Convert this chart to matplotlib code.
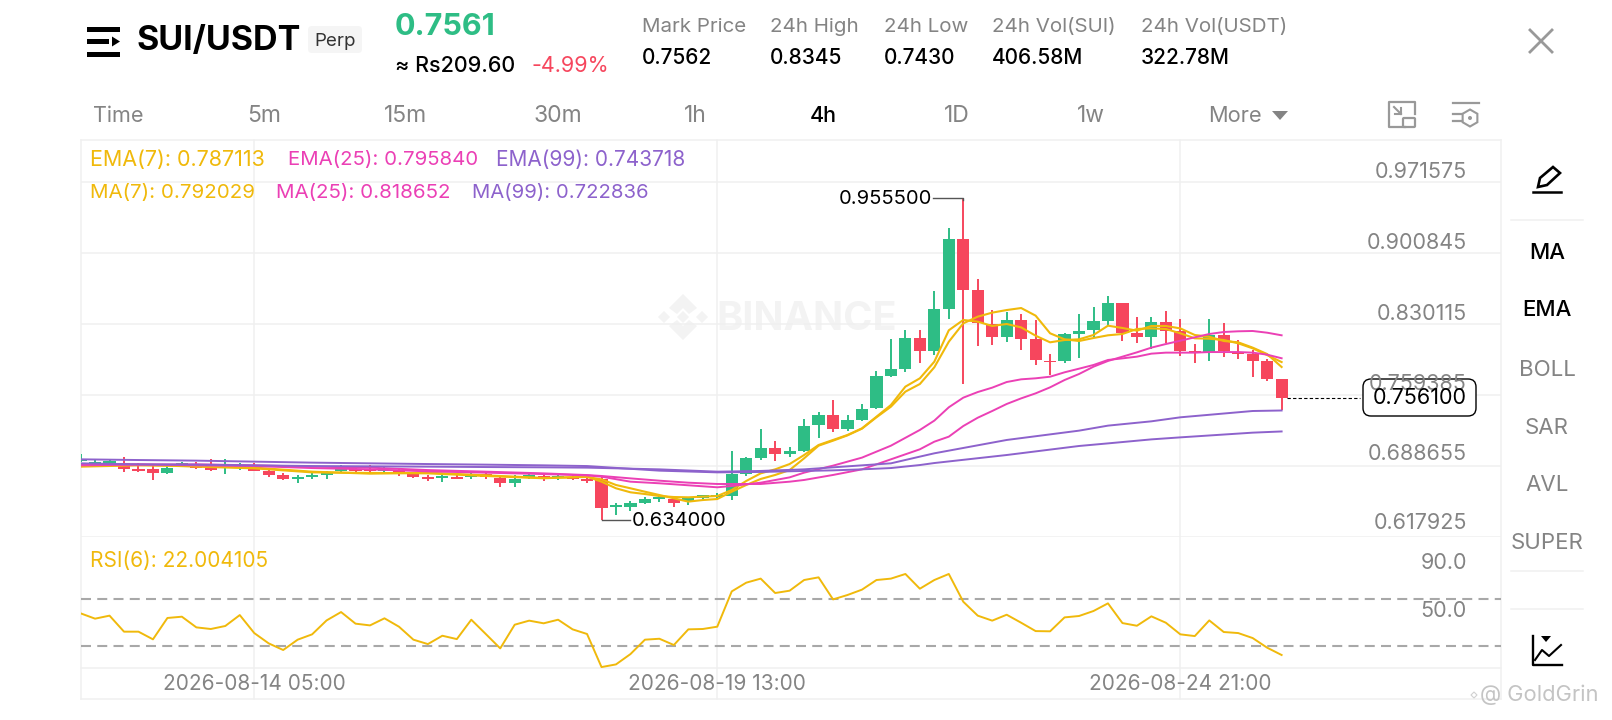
import matplotlib
matplotlib.use("Agg")
from matplotlib import pyplot as plt
from matplotlib.patches import FancyBboxPatch, Polygon, Rectangle, Circle, RegularPolygon

plt.rcParams['font.family'] = ['Inter', 'DejaVu Sans']

# 4h candles
opens = [.6933, .6910, .6910, .6910, .6857, .6850, .6817, .6893, .6893, .6863, .6863, .6870,
         .6877, .6833, .6793, .6751, .6774, .6797, .6833, .6850, .6850, .6830, .6827, .6803,
         .6774, .6767, .6774, .6771, .6800, .6761, .6714, .6777, .6784, .6764, .6771, .6751,
         .6754, .6471, .6471, .6511, .6558, .6558, .6531, .6561, .6571, .6587, .6804, .6963,
         .7063, .7000, .7033, .7289, .7395, .7256, .7339, .7459, .7784, .7848, .8157, .8034,
         .8449, .9144, .8636, .8300, .8167, .8340, .8153, .7934, .7927, .8203, .8237, .8333,
         .8509, .8210, .8170, .8316, .8230, .8024, .8014, .8190, .8020, .8000, .7931, .7748]
highs = [.7003, .6953, .6950, .6977, .6910, .6883, .6883, .6927, .6927, .6950, .6950, .6910,
         .6917, .6850, .6810, .6793, .6810, .6837, .6893, .6870, .6893, .6870, .6860, .6823,
         .6790, .6810, .6797, .6810, .6817, .6781, .6793, .6810, .6803, .6797, .6793, .6784,
         .6777, .6518, .6534, .6578, .6584, .6578, .6578, .6597, .6611, .7033, .6970, .7256,
         .7129, .7073, .7355, .7422, .7538, .7389, .7502, .7828, .8147, .8243, .8237, .8632,
         .9261, .9555, .8749, .8436, .8419, .8396, .8336, .8000, .8207, .8396, .8473, .8579,
         .8509, .8366, .8370, .8426, .8346, .8104, .8350, .8306, .8140, .8040, .7951, .7748]
lows = [.6927, .6893, .6870, .6827, .6827, .6744, .6807, .6890, .6853, .6837, .6803, .6843,
        .6830, .6777, .6744, .6717, .6751, .6754, .6827, .6827, .6820, .6817, .6784, .6767,
        .6737, .6727, .6751, .6754, .6754, .6671, .6677, .6754, .6734, .6741, .6744, .6717,
        .6340, .6395, .6438, .6505, .6528, .6471, .6491, .6544, .6551, .6544, .6784, .6947,
        .6937, .6977, .7026, .7163, .7223, .7236, .7332, .7455, .7771, .7821, .7907, .7994,
        .8350, .7705, .8084, .8094, .8123, .8040, .7891, .7788, .7911, .7964, .8170, .8286,
        .8133, .8110, .8047, .8107, .7977, .7907, .7931, .7974, .7954, .7774, .7728, .7442]
closes = [.6953, .6910, .6930, .6853, .6833, .6817, .6863, .6910, .6867, .6843, .6883, .6893,
          .6837, .6793, .6751, .6774, .6793, .6820, .6850, .6837, .6830, .6843, .6817, .6777,
          .6754, .6784, .6757, .6784, .6771, .6714, .6754, .6790, .6771, .6777, .6751, .6737,
          .6461, .6494, .6511, .6554, .6578, .6518, .6561, .6591, .6594, .6804, .6963, .7063,
          .7003, .7030, .7286, .7395, .7256, .7339, .7455, .7781, .7848, .8157, .8034, .8446,
          .9144, .8639, .8306, .8167, .8340, .8153, .7937, .7917, .8197, .8233, .8330, .8506,
          .8213, .8170, .8316, .8233, .8031, .8011, .8187, .8027, .8004, .7934, .7751, .7561]

fast_x = [0, 4, 8, 12, 16, 20, 24, 28, 32, 35] + list(range(36, 84))
ema7 = [.6883, .6897, .6877, .6860, .6820, .6814, .6810, .6784, .6761, .6777,
        .6727, .6661, .6621, .6604, .6584, .6574, .6571, .6578, .6584, .6644, .6734, .6810,
        .6850, .6903, .6993, .7093, .7143, .7193, .7259, .7375, .7492, .7675, .7758, .7924,
        .8237, .8340, .8323, .8280, .8300, .8266, .8183, .8117, .8140, .8147, .8190, .8283,
        .8260, .8233, .8280, .8280, .8256, .8190, .8173, .8130, .8117, .8064, .8000, .7871]
ma7 = [.6877, .6890, .6883, .6867, .6827, .6807, .6817, .6790, .6764, .6774,
       .6750, .6694, .6661, .6627, .6594, .6561, .6528, .6544, .6554, .6627, .6694, .6754,
       .6794, .6843, .6960, .7086, .7136, .7189, .7256, .7369, .7475, .7625, .7701, .7868,
       .8123, .8306, .8373, .8413, .8439, .8459, .8383, .8207, .8147, .8130, .8160, .8187,
       .8200, .8250, .8256, .8250, .8207, .8157, .8153, .8140, .8107, .8057, .7990, .7920]

mid_x = [0, 4, 8, 12, 16, 20, 24, 28, 32, 35, 36, 38, 40, 42, 44, 45, 47, 49, 50, 52, 54, 56, 58, 59] + list(range(60, 84))
ema25 = [.6900, .6900, .6890, .6883, .6863, .6850, .6830, .6817, .6803, .6790,
         .6777, .6727, .6711, .6691, .6671, .6684, .6717, .6770, .6817, .6887, .6967, .7086, .7243, .7336,
         .7469, .7565, .7621, .7665, .7721, .7748, .7758, .7774, .7818, .7854, .7891, .7941,
         .7957, .7974, .8004, .8014, .8014, .8014, .8020, .8020, .8020, .8014, .7994, .7958]
ma25 = [.6890, .6897, .6900, .6890, .6877, .6867, .6843, .6827, .6810, .6793,
        .6784, .6760, .6737, .6717, .6704, .6704, .6704, .6727, .6744, .6794, .6850, .6950, .7050, .7126,
        .7176, .7282, .7365, .7432, .7502, .7558, .7608, .7668, .7741, .7801, .7874, .7931,
        .7974, .8017, .8064, .8100, .8133, .8167, .8200, .8220, .8227, .8230, .8213, .8187]

slow_x = [0, 4, 8, 12, 16, 20, 24, 28, 32, 35, 40, 44, 47, 50, 52, 54, 56, 58, 59, 64, 69, 71, 74, 76, 81, 83]
ema99 = [.6910, .6900, .6897, .6890, .6883, .6880, .6877, .6873, .6870, .6867, .6850, .6827, .6834,
         .6850, .6870, .6890, .6910, .6977, .7010, .7143, .7236, .7286, .7329, .7369, .7432, .7437]
ma99 = [.6950, .6943, .6937, .6927, .6917, .6910, .6903, .6897, .6890, .6883, .6837, .6820, .6824,
        .6834, .6840, .6850, .6863, .6893, .6913, .6993, .7083, .7109, .7149, .7169, .7216, .7228]

rsi6 = [57.9, 53.3, 55.9, 42.1, 42.1, 35.5, 53.9, 55.0, 45.8, 44.4, 47.0, 56.4, 40.9, 32.0, 26.3,
        35.2, 39.8, 51.8, 59.0, 49.0, 47.5, 53.6, 46.4, 35.2, 31.4, 38.6, 35.7, 52.4, 40.1, 27.7,
        48.1, 51.6, 49.3, 52.4, 44.1, 40.1, 11.6, 13.9, 22.8, 35.2, 36.0, 30.6, 44.1, 44.4,
        46.4, 76.8, 84.3, 87.8, 75.4, 77.4, 86.6, 88.9, 69.9, 73.7, 78.3, 86.6, 87.8, 91.8, 79.1,
        86.6, 91.8, 67.9, 55.9, 51.6, 56.7, 49.8, 42.6, 42.4, 54.4, 55.6, 59.9, 66.5, 49.5, 47.2,
        55.3, 49.8, 39.8, 38.3, 51.8, 41.8, 40.9, 36.6, 28.3, 22.0]

price_ticks = [0.971575, 0.900845, 0.830115, 0.759385, 0.688655, 0.617925]
rsi_ticks = [90.0, 50.0]
rsi_bands = [70, 30]
time_ticks = [12, 44, 76]
time_labels = ["2026-08-14 05:00", "2026-08-19 13:00", "2026-08-24 21:00"]
last_price = 0.7561
high_price = 0.9555
low_price = 0.634

tabs = ["Time", "5m", "15m", "30m", "1h", "4h", "1D", "1w"]
stat_names = ["Mark Price", "24h High", "24h Low", "24h Vol(SUI)", "24h Vol(USDT)"]
stat_values = ["0.7562", "0.8345", "0.7430", "406.58M", "322.78M"]
side_items = ["MA", "EMA", "BOLL", "SAR", "AVL", "SUPER"]

GREEN = "#2EBD85"
RED = "#F6465D"
YELLOW = "#F0B90B"
PINK = "#EB40B5"
PURPLE = "#8D62CC"
GRID = "#F0F0F0"
GRAY = "#848484"
ICON = "#999999"
WATER = "#F3F3F3"

W, H = 1612, 720
LEFT, RIGHT = 80.6, 1501
STEP = 14.47
TOP, SPLIT, RSI_BOTTOM, BOTTOM = 140, 536.6, 668, 699
PX_PER_PRICE = 1002.6


def pane(top, bottom, z):
    a = fig.add_axes([LEFT / W, 1 - bottom / H, (RIGHT - LEFT) / W, (bottom - top) / H], zorder=z)
    a.patch.set_visible(False)
    a.set_xlim(0, (RIGHT - LEFT) / STEP)
    a.set_xticks([])
    a.set_yticks([])
    for s in a.spines.values():
        s.set_visible(False)
    return a


def label(x, y, s, size=15, color="black", ha="left", weight="normal"):
    # inter sits a bit high with va=center
    ui.text(x, y + 2, s, fontsize=size, color=color, ha=ha, va="center", fontweight=weight)


fig = plt.figure(figsize=(W / 100, H / 100), dpi=100, facecolor="white")

bg = fig.add_axes([0, 0, 1, 1], zorder=0)
bg.set_xlim(0, W)
bg.set_ylim(H, 0)
bg.axis("off")
ui = fig.add_axes([0, 0, 1, 1], zorder=5)
ui.set_xlim(0, W)
ui.set_ylim(H, 0)
ui.axis("off")

ax = pane(TOP, SPLIT, 2)
ax.set_ylim(price_ticks[-1], price_ticks[-1] + (SPLIT - TOP) / PX_PER_PRICE)
rsi = pane(SPLIT, RSI_BOTTOM, 2)
rsi.set_ylim(10.8, 124)

# grid and frame
for p in price_ticks:
    ax.axhline(p, color=GRID, lw=1.1, zorder=0)
for y in (TOP, RSI_BOTTOM, BOTTOM):
    bg.plot([LEFT, RIGHT], [y, y], color=GRID, lw=1.1)
for x in [LEFT, RIGHT] + [LEFT + t * STEP for t in time_ticks]:
    bg.plot([x, x], [TOP, BOTTOM], color=GRID, lw=1.1)

# watermark
bg.add_patch(Polygon([(683, 294), (697, 308), (689, 314), (683, 308), (677, 314), (669, 308)], color=WATER, lw=0))
bg.add_patch(Polygon([(683, 340), (697, 326), (689, 320), (683, 326), (677, 320), (669, 326)], color=WATER, lw=0))
for x in (664, 683, 702):
    bg.add_patch(RegularPolygon((x, 317), 4, radius=6, color=WATER, lw=0))
bg.text(716, 319, "BINANCE", fontsize=28.5, color=WATER, fontweight="bold", va="center")

# candles
for i in range(len(closes)):
    c = GREEN if closes[i] >= opens[i] else RED
    ax.plot([i, i], [lows[i], highs[i]], color=c, lw=1.4, zorder=2, solid_capstyle="butt")
    low, high = min(opens[i], closes[i]), max(opens[i], closes[i])
    ax.bar(i, max(high - low, 0.0016), bottom=low, width=0.84, color=c, lw=0, zorder=2)

ax.plot(fast_x, ema7, color=YELLOW, lw=1.5, zorder=3)
ax.plot(fast_x, ma7, color=YELLOW, lw=1.5, zorder=3)
ax.plot(mid_x, ema25, color=PINK, lw=1.4, zorder=3)
ax.plot(mid_x, ma25, color=PINK, lw=1.4, zorder=3)
ax.plot(slow_x, ema99, color=PURPLE, lw=1.4, zorder=3)
ax.plot(slow_x, ma99, color=PURPLE, lw=1.4, zorder=3)

# last price line and high / low marks
ax.plot([83.4, 88.4], [last_price, last_price], color="black", lw=0.8, ls=(0, (3, 2)), zorder=4)
ax.plot([61, 61, 58.9], [high_price - 0.002, high_price, high_price], color="#555555", lw=1, zorder=4)
ax.plot([36, 36, 38.0], [low_price, low_price, low_price], color="#555555", lw=1, zorder=4)
label(932, 197, "0.955500", 14.5, ha="right")
label(632, 519, "0.634000", 14.5)

# RSI
for b in rsi_bands:
    rsi.axhline(b, color="#A8A8A8", lw=1.5, ls=(0, (4.8, 3)), zorder=1)
rsi.plot(range(len(rsi6)), rsi6, color=YELLOW, lw=1.4, zorder=3)
label(90.5, 559, "RSI(6): 22.004105", 15, YELLOW)

# indicator legend
label(90.5, 158.3, "EMA(7): 0.787113", 15.5, YELLOW)
label(288, 158.3, "EMA(25): 0.795840", 14.7, PINK)
label(496.5, 158.3, "EMA(99): 0.743718", 15, PURPLE)
label(90.5, 191, "MA(7): 0.792029", 14.8, YELLOW)
label(275.5, 191, "MA(25): 0.818652", 14.8, PINK)
label(472, 191, "MA(99): 0.722836", 14.6, PURPLE)

# axis labels
for p, y in zip(price_ticks, [170.6, 241.6, 312.5, 383.4, 453.3, 522]):
    label(1467, y - 1, f"{p:.6f}", 15.5, GRAY, ha="right")
for v, y in zip(rsi_ticks, [562, 609.6]):
    label(1467, y - 1, f"{v:.1f}", 15.5, GRAY, ha="right")
for t, s in zip(time_ticks, time_labels):
    label(LEFT + t * STEP, 682, s, 15, GRAY, ha="center")
ui.add_patch(FancyBboxPatch((1363, 379), 113, 37, boxstyle="round,pad=0,rounding_size=8", fc="white", ec="black", lw=1))
label(1467, 396, f"{last_price:.6f}", 15.5, ha="right")

# header
for y in (26.5, 39, 51.5):
    ui.add_patch(Rectangle((87, y), 33 if y != 39 else 22, 5, color="black", lw=0))
ui.add_patch(Polygon([(112, 36.5), (120, 41.5), (112, 46.5)], color="black", lw=0))
label(136.5, 39, "SUI/USDT", 24.5, weight="bold")
ui.add_patch(FancyBboxPatch((308, 26), 54, 27, boxstyle="round,pad=0,rounding_size=4", fc="#F5F5F5", ec="none"))
label(335, 39, "Perp", 13.5, "#333333", ha="center")
label(395, 25, "0.7561", 22, GREEN, weight="bold")
label(395, 64, "≈ Rs209.60", 15.5, weight="medium")
label(531.5, 64, "-4.99%", 15.5, RED)
for x, n, v in zip([641.5, 770, 884, 992, 1141], stat_names, stat_values):
    label(x, 24.7, n, 14.8, GRAY)
    label(x, 55.5, v, 15, weight="medium")
ui.plot([1530, 1552], [30, 52], color=ICON, lw=2)
ui.plot([1530, 1552], [52, 30], color=ICON, lw=2)

# interval tabs
for x, s in zip([93.5, 246.7, 383.5, 533.5, 684, 810, 944, 1077], tabs):
    if s == "Time":
        label(x, 114, s, 15.5, GRAY)
    elif s == "4h":
        label(x, 114, s, 15.5, "black", weight="medium")
    else:
        label(x, 114, s, 16.5, GRAY)
label(1208.5, 114, "More", 15.7, GRAY)
ui.add_patch(Polygon([(1272, 111), (1288, 111), (1280, 120)], color=GRAY, lw=0))

# small icons next to the tabs
ui.plot([1405, 1389, 1389, 1415, 1415], [127, 127, 102, 102, 114], color=ICON, lw=1.6)
ui.add_patch(FancyBboxPatch((1403, 118), 12, 9, boxstyle="round,pad=0,rounding_size=1", fc="white", ec=ICON, lw=1.6))
ui.plot([1394, 1401], [107, 114], color=ICON, lw=1.5)
ui.plot([1395, 1401, 1401], [114, 114, 108], color=ICON, lw=1.5)
ui.plot([1453, 1479], [103, 103], color=ICON, lw=1.6)
ui.plot([1453, 1462], [114, 114], color=ICON, lw=1.6)
ui.plot([1453, 1462], [121, 121], color=ICON, lw=1.6)
ui.add_patch(RegularPolygon((1470, 118), 6, radius=8.5, fc="white", ec=ICON, lw=1.5))
ui.add_patch(Circle((1470, 118), 2, color=ICON, lw=0))

# right side menu
ui.plot([1533, 1561], [192, 192], color="black", lw=1.8)
ui.add_patch(Polygon([(1538, 187), (1540, 178), (1553, 167), (1560, 173), (1547, 185)], fc="white", ec="black", lw=1.9))
for y in (220, 570.5, 608.6):
    ui.plot([1511, 1583], [y, y], color=GRID, lw=1.1)
for i, (s, y) in enumerate(zip(side_items, [252, 309.5, 369, 427, 484, 542])):
    if i < 2:
        label(1547, y - 1, s, 16, "black", ha="center", weight="medium")
    else:
        label(1547, y - 1, s, 16, GRAY, ha="center")
ui.plot([1533, 1533, 1562], [636, 665, 665], color="black", lw=1.7)
ui.plot([1535, 1542, 1549, 1561], [660, 650, 656, 645], color="black", lw=1.5)
ui.add_patch(Polygon([(1541, 636), (1551, 636), (1546, 642)], color="black", lw=0))

# corner mark
ui.add_patch(RegularPolygon((1474, 695), 4, radius=3, fc="none", ec="#D0D0D0", lw=0.8))
label(1480, 693, "@ GoldGrin", 15.8, "#C4C4C4")

fig.savefig("out.png", dpi=100)
